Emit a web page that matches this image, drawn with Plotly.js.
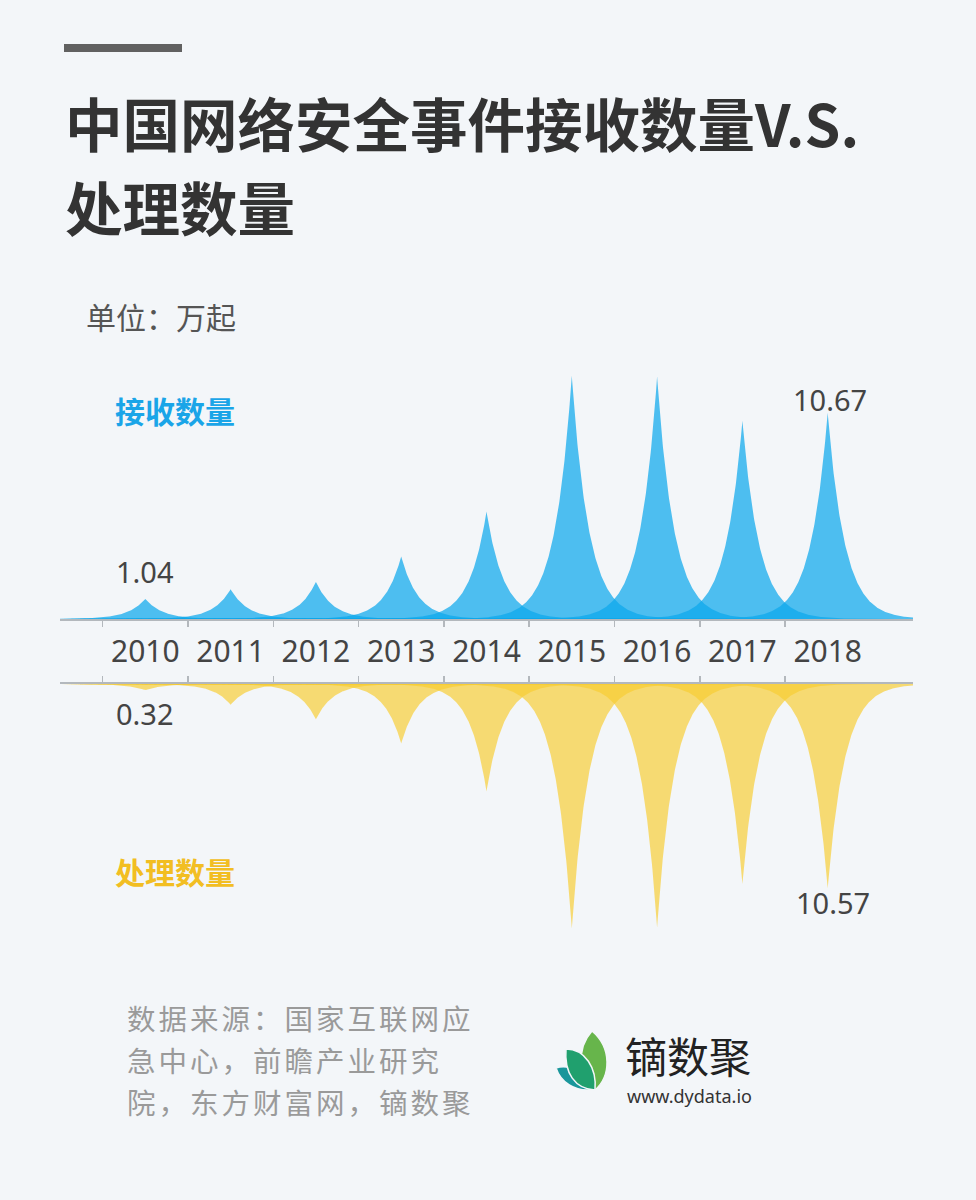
<!DOCTYPE html>
<html><head><meta charset="utf-8">
<script src="https://cdn.plot.ly/plotly-3.0.1.min.js"></script>
<style>html,body{margin:0;padding:0;background:#f3f6f9;}#chart{width:976px;height:1200px;}</style>
</head><body><div id="chart"></div>
<script>
// ---- data ----
const years = [2010, 2011, 2012, 2013, 2014, 2015, 2016, 2017, 2018];
const yearLabels = ['2010', '2011', '2012', '2013', '2014', '2015', '2016', '2017', '2018'];
const received = [1.04, 1.54, 1.92, 3.23, 5.56, 12.59, 12.54, 10.26, 10.67];
const handled = [0.32, 1.07, 1.83, 3.08, 5.56, 12.65, 12.60, 10.35, 10.57];
const seriesNames = ['接收数量', '处理数量'];
const titleLines = ['中国网络安全事件接收数量V.S.', '处理数量'];
const unitText = '单位：万起';
const sourceLines = ['数据来源：国家互联网应', '急中心，前瞻产业研究', '院，东方财富网，镝数聚'];

// ---- style ----
const W = 976, H = 1200;
const X = px => px / W;
const Y = py => 1 - py / H;
const BG = '#f3f6f9';
const BLUE = 'rgba(12,168,236,0.72)';
const YELLOW = 'rgba(247,205,50,0.68)';
const SPIKE = 0.2;           // spike decay width (years)
const XMIN = years[0] - 1, XMAX = years[years.length - 1] + 1;
const FONT = '"Noto Sans", "Noto Sans CJK SC", sans-serif';
const CJK = '"Noto Sans CJK SC", "Noto Sans", sans-serif';

const grid = [];
for (let i = 0; i <= (XMAX - XMIN) * 200; i++) grid.push(XMIN + i / 200);
const spike = (v, c) => grid.map(x => v * Math.exp(-Math.abs(x - c) / SPIKE));

const traces = [];
years.forEach((yr, i) => {
  traces.push({x: grid, y: spike(received[i], yr), xaxis: 'x', yaxis: 'y', type: 'scatter', mode: 'lines',
    line: {width: 0, color: BLUE}, fill: 'tozeroy', fillcolor: BLUE, hoverinfo: 'skip', showlegend: false});
});
years.forEach((yr, i) => {
  traces.push({x: grid, y: spike(handled[i], yr), xaxis: 'x2', yaxis: 'y2', type: 'scatter', mode: 'lines',
    line: {width: 0, color: YELLOW}, fill: 'tozeroy', fillcolor: YELLOW, hoverinfo: 'skip', showlegend: false});
});
// carrier for the year-label axis
traces.push({x: years, y: years.map(() => 0), xaxis: 'x3', yaxis: 'y', type: 'scatter', mode: 'markers',
  marker: {opacity: 0}, hoverinfo: 'skip', showlegend: false});

const bounds = years.map(y => y - 0.5);
const PX_PER_UNIT = 19.33;
const topH = 619 - 360, botH = 960 - 684;

const axisCommon = {range: [XMIN, XMAX], domain: [X(60), X(913)], showgrid: false, zeroline: false,
  fixedrange: true};

const layout = {
  width: W, height: H,
  margin: {l: 0, r: 0, t: 0, b: 0},
  paper_bgcolor: BG, plot_bgcolor: 'rgba(0,0,0,0)',
  showlegend: false,
  font: {family: FONT, color: '#444'},
  xaxis: Object.assign({}, axisCommon, {anchor: 'y', tickmode: 'array', tickvals: bounds,
    ticktext: bounds.map(() => ''), ticks: 'outside', ticklen: 6, tickwidth: 1.5, tickcolor: '#b3b8bd',
    showline: true, linecolor: '#b3b8bd', linewidth: 2, showticklabels: false}),
  xaxis3: Object.assign({}, axisCommon, {overlaying: 'x', anchor: 'y', side: 'bottom', tickmode: 'array',
    tickvals: years, ticktext: yearLabels, ticks: '', showline: false, ticklabelstandoff: 12,
    tickfont: {family: FONT, size: 30, color: '#444'}}),
  yaxis: {domain: [Y(619), Y(360)], range: [0, topH / PX_PER_UNIT], visible: false, fixedrange: true},
  xaxis2: Object.assign({}, axisCommon, {anchor: 'y2', side: 'top', tickmode: 'array', tickvals: bounds,
    ticktext: bounds.map(() => ''), ticks: 'outside', ticklen: 6, tickwidth: 1.5, tickcolor: '#b3b8bd',
    showline: true, linecolor: '#b3b8bd', linewidth: 2, showticklabels: false}),
  yaxis2: {domain: [Y(960), Y(684)], range: [botH / PX_PER_UNIT, 0], visible: false, fixedrange: true},
  shapes: [
    {type: 'rect', xref: 'paper', yref: 'paper', x0: X(64), x1: X(182), y0: Y(44), y1: Y(52),
      fillcolor: '#616161', line: {width: 0}},
    // logo leaves
    {type: 'path', xref: 'paper', yref: 'paper', fillcolor: '#19969b', line: {color: BG, width: 1.5},
      path: `M${X(556)},${Y(1068)} C${X(572)},${Y(1063)} ${X(584)},${Y(1075)} ${X(590)},${Y(1090)} C${X(575)},${Y(1091)} ${X(561)},${Y(1083)} ${X(556)},${Y(1068)} Z`},
    {type: 'path', xref: 'paper', yref: 'paper', fillcolor: '#67b54b', line: {color: BG, width: 1.5},
      path: `M${X(592)},${Y(1031)} C${X(612)},${Y(1048)} ${X(611)},${Y(1076)} ${X(595)},${Y(1090)} C${X(580)},${Y(1076)} ${X(575)},${Y(1050)} ${X(592)},${Y(1031)} Z`},
    {type: 'path', xref: 'paper', yref: 'paper', fillcolor: '#20a06e', line: {color: BG, width: 1.5},
      path: `M${X(566)},${Y(1049)} C${X(585)},${Y(1049)} ${X(597)},${Y(1068)} ${X(595)},${Y(1090)} C${X(575)},${Y(1089)} ${X(564)},${Y(1073)} ${X(566)},${Y(1049)} Z`}
  ],
  annotations: [
    {xref: 'paper', yref: 'paper', x: X(63), y: Y(122.5), xanchor: 'left', yanchor: 'middle', showarrow: false,
      text: titleLines[0], font: {family: CJK, size: 57.5, color: '#333', weight: 'bold'}},
    {xref: 'paper', yref: 'paper', x: X(63), y: Y(205.5), xanchor: 'left', yanchor: 'middle', showarrow: false,
      text: titleLines[1], font: {family: CJK, size: 57.5, color: '#333', weight: 'bold'}},
    {xref: 'paper', yref: 'paper', x: X(84), y: Y(315.5), xanchor: 'left', yanchor: 'middle', showarrow: false,
      text: unitText, font: {family: CJK, size: 30, color: '#555'}},
    {xref: 'paper', yref: 'paper', x: X(113), y: Y(409.5), xanchor: 'left', yanchor: 'middle', showarrow: false,
      text: seriesNames[0], font: {family: CJK, size: 30, color: '#1aa5e8', weight: 'bold'}},
    {xref: 'paper', yref: 'paper', x: X(113), y: Y(871.5), xanchor: 'left', yanchor: 'middle', showarrow: false,
      text: seriesNames[1], font: {family: CJK, size: 30, color: '#f2be22', weight: 'bold'}},
    // value labels
    {xref: 'x', yref: 'y', x: years[0], y: received[0], xanchor: 'center', yanchor: 'bottom', yshift: 6,
      showarrow: false, text: received[0].toFixed(2), font: {family: FONT, size: 29, color: '#444'}},
    {xref: 'x', yref: 'y', x: years[8], y: received[8], xanchor: 'center', yanchor: 'bottom', yshift: -8, xshift: 2,
      showarrow: false, text: received[8].toFixed(2), font: {family: FONT, size: 29, color: '#444'}},
    {xref: 'x2', yref: 'y2', x: years[0], y: handled[0], xanchor: 'center', yanchor: 'top', yshift: -2,
      showarrow: false, text: handled[0].toFixed(2), font: {family: FONT, size: 29, color: '#444'}},
    {xref: 'x2', yref: 'y2', x: years[8], y: handled[8], xanchor: 'center', yanchor: 'top', yshift: 7, xshift: 5,
      showarrow: false, text: handled[8].toFixed(2), font: {family: FONT, size: 29, color: '#444'}},
    // source lines
    ...sourceLines.map((t, i) => ({xref: 'paper', yref: 'paper', x: X(126), y: Y([1017.5, 1059.5, 1101.5][i]),
      xanchor: 'left', yanchor: 'middle', showarrow: false, borderpad: 0,
      text: `<span style="letter-spacing:3px">${t}</span>`,
      font: {family: CJK, size: 28.5, color: '#9a9a9a'}})),
    // logo text
    {xref: 'paper', yref: 'paper', x: X(624), y: Y(1054), xanchor: 'left', yanchor: 'middle', showarrow: false,
      borderpad: 0, text: '镝数聚', font: {family: CJK, size: 42, color: '#222'}},
    {xref: 'paper', yref: 'paper', x: X(626), y: Y(1096), xanchor: 'left', yanchor: 'middle', showarrow: false,
      borderpad: 0, text: 'www.dydata.io', font: {family: FONT, size: 18, color: '#333'}}
  ]
};

Plotly.newPlot('chart', traces, layout, {staticPlot: true, displayModeBar: false});
</script>
</body></html>
